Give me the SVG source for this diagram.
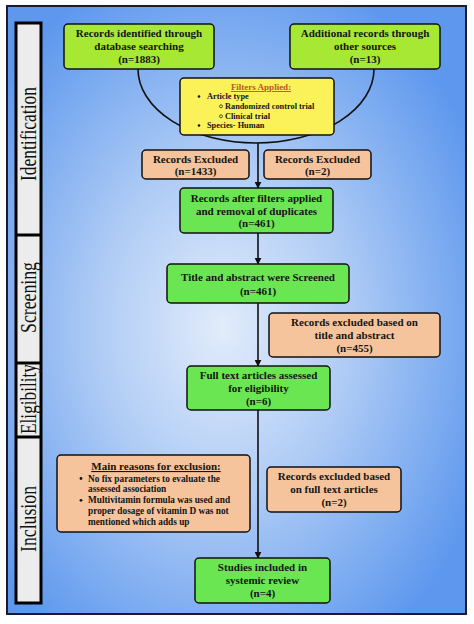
<svg xmlns="http://www.w3.org/2000/svg" width="474" height="624" viewBox="0 0 474 624">
<defs>
<radialGradient id="bg" cx="0.47" cy="0.53" r="0.62" gradientUnits="objectBoundingBox">
<stop offset="0" stop-color="#e2ecfb"/>
<stop offset="0.45" stop-color="#aecbf5"/>
<stop offset="1" stop-color="#5e98ee"/>
</radialGradient>
<marker id="arr" viewBox="0 0 10 10" refX="9" refY="5" markerWidth="7" markerHeight="7" markerUnits="userSpaceOnUse" orient="auto">
<path d="M0,0 L10,5 L0,10 z" fill="#111"/>
</marker>
<style>
.box{stroke:#111;stroke-width:1.5}
.lime{fill:#a6e834}
.green{fill:#6be653}
.peach{fill:#f5c49c}
.yellow{fill:#fbf25a}
.t{font-family:"Liberation Serif","Times New Roman",serif;font-weight:bold;font-size:11px;fill:#141414;text-anchor:middle}
.s{font-family:"Liberation Serif","Times New Roman",serif;font-weight:bold;font-size:8.3px;fill:#141414}
.m{font-family:"Liberation Serif","Times New Roman",serif;font-weight:bold;font-size:9.3px;fill:#141414}
.side{font-family:"Liberation Serif","Times New Roman",serif;font-size:23px;fill:#111;text-anchor:middle}
.conn{fill:none;stroke:#111;stroke-width:1.6}
</style>
</defs>
<rect x="7" y="6" width="459" height="608" fill="url(#bg)" stroke="#1b1b2b" stroke-width="2"/>

<g id="sidebar">
<rect x="16" y="23" width="25" height="580" fill="#ececec" stroke="#000" stroke-width="3"/>
<line x1="16" y1="235" x2="41" y2="235" stroke="#000" stroke-width="3"/>
<line x1="16" y1="363" x2="41" y2="363" stroke="#000" stroke-width="3"/>
<line x1="16" y1="437" x2="41" y2="437" stroke="#000" stroke-width="3"/>
<text class="side" transform="translate(36,134) rotate(-90)" textLength="94" lengthAdjust="spacingAndGlyphs">Identification</text>
<text class="side" transform="translate(36,297.5) rotate(-90)" textLength="71" lengthAdjust="spacingAndGlyphs">Screening</text>
<text class="side" transform="translate(36,399) rotate(-90)" textLength="70" lengthAdjust="spacingAndGlyphs">Eligibility</text>
<text class="side" transform="translate(36,519) rotate(-90)" textLength="66" lengthAdjust="spacingAndGlyphs">Inclusion</text>
</g>

<g id="connectors">
<path class="conn" d="M138,69 A118,74 0 0 0 374,69"/>
<path class="conn" d="M258,143 V188" marker-end="url(#arr)"/>
<path class="conn" d="M258,233 V264" marker-end="url(#arr)"/>
<path class="conn" d="M258,303 V366" marker-end="url(#arr)"/>
<path class="conn" d="M258,410 V558" marker-end="url(#arr)"/>
</g>

<g id="db">
<rect class="box lime" x="64" y="24" width="150" height="45" rx="4"/>
<text class="t" x="139" y="37">Records identified through</text>
<text class="t" x="139" y="50">database searching</text>
<text class="t" x="139" y="63">(n=1883)</text>
</g>

<g id="other">
<rect class="box lime" x="290" y="24" width="150" height="45" rx="4"/>
<text class="t" x="365" y="37">Additional records through</text>
<text class="t" x="365" y="50">other sources</text>
<text class="t" x="365" y="63">(n=13)</text>
</g>

<g id="filters">
<rect class="box yellow" x="180" y="78" width="154" height="57" rx="4"/>
<text class="t" x="261" y="90" style="font-size:9px;fill:#c0502a" text-decoration="underline">Filters Applied:</text>
<circle cx="199" cy="96.5" r="1.3" fill="#141414"/>
<text class="s" x="207" y="99">Article type</text>
<circle cx="221" cy="106.3" r="1.5" fill="none" stroke="#141414" stroke-width="0.7"/>
<text class="s" x="225" y="109">Randomized control trial</text>
<circle cx="221" cy="116.3" r="1.5" fill="none" stroke="#141414" stroke-width="0.7"/>
<text class="s" x="225" y="119">Clinical trial</text>
<circle cx="199" cy="125.5" r="1.3" fill="#141414"/>
<text class="s" x="207" y="128">Species- Human</text>
</g>

<g id="excl1">
<rect class="box peach" x="142" y="150" width="107" height="29" rx="4"/>
<text class="t" x="195.5" y="162.5">Records Excluded</text>
<text class="t" x="195.5" y="175">(n=1433)</text>
</g>

<g id="excl2">
<rect class="box peach" x="264" y="150" width="107" height="29" rx="4"/>
<text class="t" x="317.5" y="162.5">Records Excluded</text>
<text class="t" x="317.5" y="175">(n=2)</text>
</g>

<g id="after">
<rect class="box green" x="180" y="188" width="153" height="45" rx="4"/>
<text class="t" x="256.5" y="202">Records after filters applied</text>
<text class="t" x="256.5" y="214.5">and removal of duplicates</text>
<text class="t" x="256.5" y="227">(n=461)</text>
</g>

<g id="screened">
<rect class="box green" x="167" y="264" width="182" height="39" rx="4"/>
<text class="t" x="258" y="281">Title and abstract were Screened</text>
<text class="t" x="258" y="294.5">(n=461)</text>
</g>

<g id="excl3">
<rect class="box peach" x="269" y="313" width="171" height="44" rx="4"/>
<text class="t" x="354.5" y="326">Records excluded based on</text>
<text class="t" x="354.5" y="338.5">title and abstract</text>
<text class="t" x="354.5" y="351.5">(n=455)</text>
</g>

<g id="fulltext">
<rect class="box green" x="187" y="366" width="143" height="44" rx="4"/>
<text class="t" x="258.5" y="379">Full text articles assessed</text>
<text class="t" x="258.5" y="392">for eligibility</text>
<text class="t" x="258.5" y="405">(n=6)</text>
</g>

<g id="reasons">
<rect class="box peach" x="57" y="455" width="193" height="77" rx="4"/>
<text class="t" x="156" y="470" text-decoration="underline">Main reasons for exclusion:</text>
<circle cx="81" cy="478.5" r="1.4" fill="#141414"/>
<text class="m" x="88" y="481.5">No fix parameters to evaluate the</text>
<text class="m" x="88" y="492.3">assessed association</text>
<circle cx="81" cy="500.3" r="1.4" fill="#141414"/>
<text class="m" x="88" y="503.3">Multivitamin formula was used and</text>
<text class="m" x="88" y="514">proper dosage of vitamin D was not</text>
<text class="m" x="88" y="524.8">mentioned which adds up</text>
</g>

<g id="excl4">
<rect class="box peach" x="267" y="467" width="134" height="45" rx="4"/>
<text class="t" x="334" y="479.5">Records excluded based</text>
<text class="t" x="334" y="492.5">on full text articles</text>
<text class="t" x="334" y="506">(n=2)</text>
</g>

<g id="included">
<rect class="box green" x="195" y="558" width="135" height="45" rx="4"/>
<text class="t" x="262.5" y="571">Studies included in</text>
<text class="t" x="262.5" y="584">systemic review</text>
<text class="t" x="262.5" y="597">(n=4)</text>
</g>
</svg>
